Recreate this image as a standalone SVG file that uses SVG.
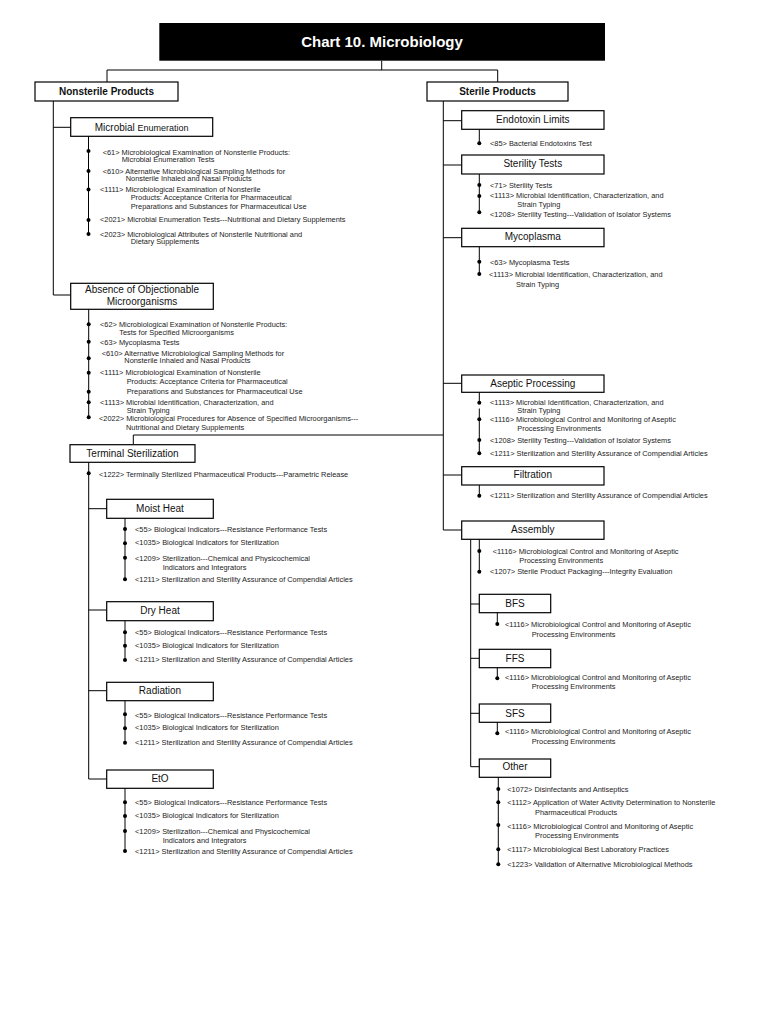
<svg xmlns="http://www.w3.org/2000/svg" width="768" height="1024" viewBox="0 0 768 1024">
<style>
.box{fill:#fff;stroke:#000;stroke-width:1.2}
.lbl{font-family:"Liberation Sans",Arial,sans-serif;font-size:10px;text-anchor:middle;fill:#111}
.hdr{font-weight:bold}
.it{font-family:"Liberation Sans",Arial,sans-serif;font-size:7.4px;fill:#222}
.ln{stroke:#000;stroke-width:1;fill:none}
.dot{fill:#000}
</style>
<rect width="768" height="1024" fill="#fff"/>
<g id="connectors">
<path class="ln" d="M381.7,60.7V70M107,70H497.7M107,70V82M497.7,70V82"/>
<path class="ln" d="M53.3,101V295H70.7M53.3,127.3H70.7"/>
<path class="ln" d="M443.3,101V530H461.7M443.3,120.7H461.7M443.3,165H461.7M443.3,237.7H461.7M443.3,383.3H461.7M443.3,475H461.7"/>
<path class="ln" d="M443.3,435H133.3V444.7"/>
<path class="ln" d="M88.7,462.3V779H106.7M88.7,508.7H106.7M88.7,610H106.7M88.7,690.7H106.7"/>
<path class="ln" d="M470.7,539.3V766.7H479.3M470.7,604H479.3M470.7,658.3H479.3M470.7,713.3H479.3"/>
</g>
<g id="title">
<rect x="159.3" y="23" width="445.7" height="37.7" fill="#000"/>
<text x="382" y="46.5" font-family="'Liberation Sans',Arial,sans-serif" font-size="15" font-weight="bold" fill="#fff" text-anchor="middle">Chart 10. Microbiology</text>
</g>
<g id="nonsterile">
<rect class="box" x="35" y="82" width="143" height="19"/>
<text class="lbl hdr" x="106.5" y="95">Nonsterile Products</text>
</g>
<g id="sterile">
<rect class="box" x="427" y="82" width="141" height="19"/>
<text class="lbl hdr" x="497.5" y="95">Sterile Products</text>
</g>
<g id="enumeration">
<rect class="box" x="70.7" y="117.7" width="142" height="18.6"/>
<text class="lbl" x="141.7" y="130.5">Microbial <tspan font-size="9">Enumeration</tspan></text>
<path class="ln" d="M88.5,136.3V234"/>
<circle class="dot" cx="88.5" cy="151" r="2"/><circle class="dot" cx="88.5" cy="171" r="2"/><circle class="dot" cx="88.5" cy="189.5" r="2"/><circle class="dot" cx="88.5" cy="220" r="2"/><circle class="dot" cx="88.5" cy="234" r="2"/>
<text class="it" x="102.7" y="154.9">&lt;61&gt; Microbiological Examination of Nonsterile Products:</text>
<text class="it" x="121.7" y="161.9">Microbial Enumeration Tests</text>
<text class="it" x="102.7" y="173.6">&lt;610&gt; Alternative Microbiological Sampling Methods for</text>
<text class="it" x="125.7" y="180.9">Nonsterile Inhaled and Nasal Products</text>
<text class="it" x="100" y="191.9">&lt;1111&gt; Microbiological Examination of Nonsterile</text>
<text class="it" x="130.7" y="199.9">Products: Acceptance Criteria for Pharmaceutical</text>
<text class="it" x="130.7" y="209.3">Preparations and Substances for Pharmaceutical Use</text>
<text class="it" x="100" y="221.6">&lt;2021&gt; Microbial Enumeration Tests---Nutritional and Dietary Supplements</text>
<text class="it" x="100" y="236.6">&lt;2023&gt; Microbiological Attributes of Nonsterile Nutritional and</text>
<text class="it" x="130.7" y="244.3">Dietary Supplements</text>
</g>
<g id="absence">
<rect class="box" x="70.7" y="283.3" width="142.6" height="26"/>
<text class="lbl" x="142" y="292.5">Absence of Objectionable</text>
<text class="lbl" x="142" y="305.2">Microorganisms</text>
<path class="ln" d="M88.7,309.3V417.3"/>
<circle class="dot" cx="88.7" cy="324.3" r="2"/><circle class="dot" cx="88.7" cy="341.7" r="2"/><circle class="dot" cx="88.7" cy="358.3" r="2"/><circle class="dot" cx="88.7" cy="372.7" r="2"/><circle class="dot" cx="88.7" cy="391.7" r="2"/><circle class="dot" cx="88.7" cy="402.3" r="2"/><circle class="dot" cx="88.7" cy="417.3" r="2"/>
<text class="it" x="100" y="326.9">&lt;62&gt; Microbiological Examination of Nonsterile Products:</text>
<text class="it" x="119.3" y="334.9">Tests for Specified Microorganisms</text>
<text class="it" x="100" y="344.9">&lt;63&gt; Mycoplasma Tests</text>
<text class="it" x="101.7" y="355.9">&lt;610&gt; Alternative Microbiological Sampling Methods for</text>
<text class="it" x="124.3" y="363.3">Nonsterile Inhaled and Nasal Products</text>
<text class="it" x="100" y="375.3">&lt;1111&gt; Microbiological Examination of Nonsterile</text>
<text class="it" x="126.7" y="384.3">Products: Acceptance Criteria for Pharmaceutical</text>
<text class="it" x="126.7" y="393.6">Preparations and Substances for Pharmaceutical Use</text>
<text class="it" x="100" y="405.3">&lt;1113&gt; Microbial Identification, Characterization, and</text>
<text class="it" x="126.7" y="412.6">Strain Typing</text>
<text class="it" x="99" y="420.9">&lt;2022&gt; Microbiological Procedures for Absence of Specified Microorganisms---</text>
<text class="it" x="126" y="430.3">Nutritional and Dietary Supplements</text>
</g>
<g id="terminal">
<rect class="box" x="70" y="444.7" width="125" height="17.6"/>
<text class="lbl" x="132.5" y="456.8">Terminal Sterilization</text>
<circle class="dot" cx="88.7" cy="473.3" r="2"/>
<text class="it" x="99" y="476.9">&lt;1222&gt; Terminally Sterilized Pharmaceutical Products---Parametric Release</text>
</g>
<g id="moist-heat">
<rect class="box" x="106.7" y="499.3" width="106.6" height="19"/>
<text class="lbl" x="160" y="511.8">Moist Heat</text>
<path class="ln" d="M125,518.3V579.3"/>
<circle class="dot" cx="125" cy="529" r="2"/><circle class="dot" cx="125" cy="543.3" r="2"/><circle class="dot" cx="125" cy="557.7" r="2"/><circle class="dot" cx="125" cy="579.3" r="2"/>
<text class="it" x="135" y="531.9">&lt;55&gt; Biological Indicators---Resistance Performance Tests</text>
<text class="it" x="135" y="545.3">&lt;1035&gt; Biological Indicators for Sterilization</text>
<text class="it" x="135" y="560.9">&lt;1209&gt; Sterilization---Chemical and Physicochemical</text>
<text class="it" x="162.7" y="569.9">Indicators and Integrators</text>
<text class="it" x="135" y="581.6">&lt;1211&gt; Sterilization and Sterility Assurance of Compendial Articles</text>
</g>
<g id="dry-heat">
<rect class="box" x="106.7" y="601.7" width="106.6" height="19"/>
<text class="lbl" x="160" y="613.8">Dry Heat</text>
<path class="ln" d="M125,620.7V660"/>
<circle class="dot" cx="125" cy="632.3" r="2"/><circle class="dot" cx="125" cy="645.7" r="2"/><circle class="dot" cx="125" cy="660" r="2"/>
<text class="it" x="135" y="635.3">&lt;55&gt; Biological Indicators---Resistance Performance Tests</text>
<text class="it" x="135" y="647.6">&lt;1035&gt; Biological Indicators for Sterilization</text>
<text class="it" x="135" y="661.9">&lt;1211&gt; Sterilization and Sterility Assurance of Compendial Articles</text>
</g>
<g id="radiation">
<rect class="box" x="106.7" y="682.3" width="106.6" height="18.4"/>
<text class="lbl" x="160" y="694.3">Radiation</text>
<path class="ln" d="M125,700.7V742.7"/>
<circle class="dot" cx="125" cy="714.3" r="2"/><circle class="dot" cx="125" cy="728.3" r="2"/><circle class="dot" cx="125" cy="742.7" r="2"/>
<text class="it" x="135" y="717.6">&lt;55&gt; Biological Indicators---Resistance Performance Tests</text>
<text class="it" x="135" y="730.3">&lt;1035&gt; Biological Indicators for Sterilization</text>
<text class="it" x="135" y="744.9">&lt;1211&gt; Sterilization and Sterility Assurance of Compendial Articles</text>
</g>
<g id="eto">
<rect class="box" x="106.7" y="770" width="106.6" height="18.3"/>
<text class="lbl" x="160" y="781.8">EtO</text>
<path class="ln" d="M125,788.3V851"/>
<circle class="dot" cx="125" cy="802.3" r="2"/><circle class="dot" cx="125" cy="816" r="2"/><circle class="dot" cx="125" cy="831" r="2"/><circle class="dot" cx="125" cy="851" r="2"/>
<text class="it" x="135" y="804.9">&lt;55&gt; Biological Indicators---Resistance Performance Tests</text>
<text class="it" x="135" y="818.3">&lt;1035&gt; Biological Indicators for Sterilization</text>
<text class="it" x="135" y="833.6">&lt;1209&gt; Sterilization---Chemical and Physicochemical</text>
<text class="it" x="162.7" y="843.3">Indicators and Integrators</text>
<text class="it" x="135" y="854.3">&lt;1211&gt; Sterilization and Sterility Assurance of Compendial Articles</text>
</g>
<g id="endotoxin">
<rect class="box" x="461.7" y="110.7" width="142.3" height="18.6"/>
<text class="lbl" x="532.8" y="122.8">Endotoxin Limits</text>
<path class="ln" d="M479.3,129.3V143.3"/>
<circle class="dot" cx="479.3" cy="143.3" r="2"/>
<text class="it" x="490" y="145.9">&lt;85&gt; Bacterial Endotoxins Test</text>
</g>
<g id="sterility-tests">
<rect class="box" x="461.7" y="155" width="142.3" height="19"/>
<text class="lbl" x="532.8" y="167.3">Sterility Tests</text>
<path class="ln" d="M479.3,174V212.3"/>
<circle class="dot" cx="479.3" cy="185" r="2"/><circle class="dot" cx="479.3" cy="196" r="2"/><circle class="dot" cx="479.3" cy="212.3" r="2"/>
<text class="it" x="490" y="187.6">&lt;71&gt; Sterility Tests</text>
<text class="it" x="490" y="197.6">&lt;1113&gt; Microbial Identification, Characterization, and</text>
<text class="it" x="517.3" y="206.6">Strain Typing</text>
<text class="it" x="490" y="216.9">&lt;1208&gt; Sterility Testing---Validation of Isolator Systems</text>
</g>
<g id="mycoplasma">
<rect class="box" x="461.7" y="228.3" width="142.3" height="18.4"/>
<text class="lbl" x="532.8" y="240">Mycoplasma</text>
<path class="ln" d="M479.3,246.7V274"/>
<circle class="dot" cx="479.3" cy="261.7" r="2"/><circle class="dot" cx="479.3" cy="274" r="2"/>
<text class="it" x="490" y="264.9">&lt;63&gt; Mycoplasma Tests</text>
<text class="it" x="489" y="276.6">&lt;1113&gt; Microbial Identification, Characterization, and</text>
<text class="it" x="516" y="286.6">Strain Typing</text>
</g>
<g id="aseptic">
<rect class="box" x="461.7" y="375" width="142.3" height="17.3"/>
<text class="lbl" x="532.8" y="386.5">Aseptic Processing</text>
<path class="ln" d="M479.3,392.3V403M479.3,408.5V453.3"/>
<circle class="dot" cx="479.3" cy="402.7" r="2"/><circle class="dot" cx="479.3" cy="419.3" r="2"/><circle class="dot" cx="479.3" cy="440" r="2"/><circle class="dot" cx="479.3" cy="453.3" r="2"/>
<text class="it" x="490" y="404.9">&lt;1113&gt; Microbial Identification, Characterization, and</text>
<text class="it" x="517.3" y="413.3">Strain Typing</text>
<text class="it" x="490" y="421.9">&lt;1116&gt; Microbiological Control and Monitoring of Aseptic</text>
<text class="it" x="517.3" y="430.9">Processing Environments</text>
<text class="it" x="490" y="442.6">&lt;1208&gt; Sterility Testing---Validation of Isolator Systems</text>
<text class="it" x="490" y="455.9">&lt;1211&gt; Sterilization and Sterility Assurance of Compendial Articles</text>
</g>
<g id="filtration">
<rect class="box" x="461.7" y="466.7" width="142.3" height="18.3"/>
<text class="lbl" x="532.8" y="478.3">Filtration</text>
<path class="ln" d="M479.3,485V495.7"/>
<circle class="dot" cx="479.3" cy="495.7" r="2"/>
<text class="it" x="490" y="498.3">&lt;1211&gt; Sterilization and Sterility Assurance of Compendial Articles</text>
</g>
<g id="assembly">
<rect class="box" x="461.7" y="521" width="142.3" height="18.3"/>
<text class="lbl" x="532.8" y="532.8">Assembly</text>
<path class="ln" d="M479.3,539.3V571.7"/>
<circle class="dot" cx="479.3" cy="551" r="2"/><circle class="dot" cx="479.3" cy="571.7" r="2"/>
<text class="it" x="492.7" y="554.3">&lt;1116&gt; Microbiological Control and Monitoring of Aseptic</text>
<text class="it" x="519.3" y="563.3">Processing Environments</text>
<text class="it" x="490" y="574.3">&lt;1207&gt; Sterile Product Packaging---Integrity Evaluation</text>
</g>
<g id="bfs">
<rect class="box" x="479.3" y="594.3" width="71.4" height="18.4"/>
<text class="lbl" x="515" y="606.8">BFS</text>
<path class="ln" d="M497.3,612.7V624"/>
<circle class="dot" cx="497.3" cy="624" r="2"/>
<text class="it" x="505" y="626.9">&lt;1116&gt; Microbiological Control and Monitoring of Aseptic</text>
<text class="it" x="531.7" y="636.6">Processing Environments</text>
</g>
<g id="ffs">
<rect class="box" x="479.3" y="649.3" width="71.4" height="18.4"/>
<text class="lbl" x="515" y="661.8">FFS</text>
<path class="ln" d="M497.3,667.7V678.3"/>
<circle class="dot" cx="497.3" cy="678.3" r="2"/>
<text class="it" x="505" y="679.9">&lt;1116&gt; Microbiological Control and Monitoring of Aseptic</text>
<text class="it" x="531.7" y="689.3">Processing Environments</text>
</g>
<g id="sfs">
<rect class="box" x="479.3" y="704" width="71.4" height="18.3"/>
<text class="lbl" x="515" y="716.6">SFS</text>
<path class="ln" d="M497.3,722.3V733.3"/>
<circle class="dot" cx="497.3" cy="733.3" r="2"/>
<text class="it" x="505" y="734.3">&lt;1116&gt; Microbiological Control and Monitoring of Aseptic</text>
<text class="it" x="531.7" y="743.6">Processing Environments</text>
</g>
<g id="other">
<rect class="box" x="479.3" y="759" width="71.4" height="18.3"/>
<text class="lbl" x="515" y="770.2">Other</text>
<path class="ln" d="M498.3,777.3V864.3"/>
<circle class="dot" cx="498.3" cy="789" r="2"/><circle class="dot" cx="498.3" cy="802.3" r="2"/><circle class="dot" cx="498.3" cy="825" r="2"/><circle class="dot" cx="498.3" cy="849.3" r="2"/><circle class="dot" cx="498.3" cy="864.3" r="2"/>
<text class="it" x="507.3" y="791.6">&lt;1072&gt; Disinfectants and Antiseptics</text>
<text class="it" x="507.3" y="804.9">&lt;1112&gt; Application of Water Activity Determination to Nonsterile</text>
<text class="it" x="535" y="814.9">Pharmaceutical Products</text>
<text class="it" x="507.3" y="828.6">&lt;1116&gt; Microbiological Control and Monitoring of Aseptic</text>
<text class="it" x="535" y="838.3">Processing Environments</text>
<text class="it" x="507.3" y="851.9">&lt;1117&gt; Microbiological Best Laboratory Practices</text>
<text class="it" x="507.3" y="866.9">&lt;1223&gt; Validation of Alternative Microbiological Methods</text>
</g>
</svg>
